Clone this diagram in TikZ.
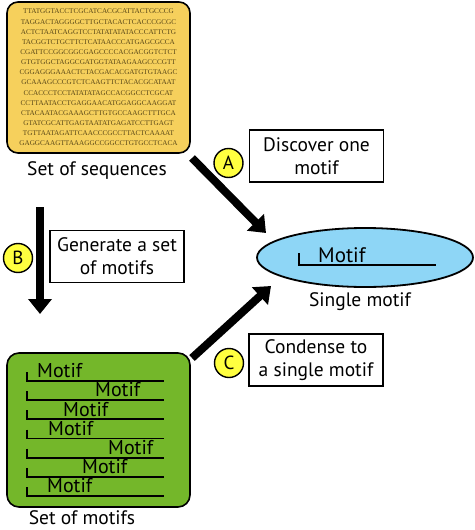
\documentclass[tikz,border=0pt]{standalone}
\usepackage{fontspec}
\setmainfont{PT Sans}
\newfontfamily\seqfont{Liberation Serif}
\usetikzlibrary{arrows.meta,shapes.geometric}
\definecolor{seqyellow}{HTML}{F6D05C}
\definecolor{seqtext}{HTML}{5A4818}
\definecolor{motifgreen}{HTML}{74B72A}
\definecolor{ellblue}{HTML}{8ED6F6}
\definecolor{circyellow}{HTML}{FFFF40}
\tikzset{
  x=1pt, y=-1pt,
  lbl/.style={font=\fontsize{19.5}{22}\selectfont, inner sep=0pt},
  stepbox/.style={draw=black, line width=1.6pt, fill=white, minimum width=134pt, minimum height=52pt, align=center, inner sep=0pt, font=\fontsize{19.5}{23}\selectfont},
  letter/.style={circle, draw=black, line width=1.4pt, fill=circyellow, minimum size=29pt, inner sep=0pt, font=\fontsize{19}{19}\selectfont},
  bigarrow/.style={line width=8pt, -{Triangle[length=15pt, width=23pt]}},
  motifline/.style={line width=1.8pt},
  motiftext/.style={font=\fontsize{20}{20}\selectfont, inner sep=0pt, anchor=base west},
}
\begin{document}
\begin{tikzpicture}
\useasboundingbox (0,0) rectangle (474,530);
% sequence box
\node[draw=black, line width=1.6pt, fill=seqyellow, rounded corners=11pt,
      minimum width=183pt, minimum height=151pt, inner sep=0pt, align=center,
      text=seqtext, font=\seqfont\fontsize{7.2}{10.15}\selectfont] (seq) at (98.5,77.5)
{TTATGGTACCTCGCATCACGCATTACTGCCCG\\
TAGGACTAGGGGCTTGCTACACTCACCCGCGC\\
ACTCTAATCAGGTCCTATATATATACCCATTCTG\\
TACGGTCTGCTTCTCATAACCCATGAGCGCCA\\
CGATTCCGGCGGCGAGCCCCACGACGGTCTCT\\
GTGTGGCTAGGCGATGGTATAAGAAGCCCGTT\\
CGGAGGGAAACTCTACGACACGATGTGTAAGC\\
GCAAAGCCCGTCTCAAGTTCTACACGCATAAT\\
CCACCCTCCTATATATAGCCACGGCCTCGCAT\\
CCTTAATACCTGAGGAACATGGAGGCAAGGAT\\
CTACAATACGAAAGCTTGTGCCAAGCTTTGCA\\
GTATCGCATTGAGTAATATGAGATCCTTGAGT\\
TGTTAATAGATTCAACCCGCCTTACTCAAAAT\\
GAGGCAAGTTAAAGGCCGGCCTGTGCCTCACA};
\node[lbl, anchor=base] (seqlbl) at (97,175) {Set of sequences};

% single motif ellipse
\node[ellipse, draw=black, line width=1.8pt, fill=ellblue, minimum width=216pt, minimum height=59pt, inner sep=0pt] (ell) at (365,257.5) {};
\coordinate (et1) at (299,253);
\coordinate (et2) at (299,265);
\coordinate (et3) at (436,265);
\draw[motifline] (et1) -- (et2) -- (et3);
\node[motiftext, font=\fontsize{21}{21}\selectfont] (emotif) at (318,262) {Motif};
\node[lbl, anchor=base] (elbl) at (360,306.5) {Single motif};

% motif set box
\node[draw=black, line width=1.6pt, fill=motifgreen, rounded corners=12pt,
      minimum width=183pt, minimum height=154pt, inner sep=0pt] (set) at (98.5,430) {};
\foreach \i/\tx in {0/37,1/95,2/63,3/48,4/108,5/82,6/47} {
  \coordinate (m\i a) at (27,381+19.17*\i-9);
  \coordinate (m\i b) at (27,381+19.17*\i);
  \coordinate (m\i c) at (164,381+19.17*\i);
  \draw[motifline] (m\i a) -- (m\i b) -- (m\i c);
  \node[motiftext] (mt\i) at (\tx,381+19.17*\i-3.2) {Motif};
}
\node[lbl, anchor=base] (setlbl) at (82,524) {Set of motifs};

% step boxes
\node[stepbox] (discover) at (316.5,156) {Discover one\\motif};
\node[stepbox] (generate) at (117,256.5) {Generate a set\\of motifs};
\node[stepbox] (condense) at (316,360) {Condense to\\a single motif};

% letters
\node[letter] (la) at (228.5,163) {A};
\node[letter] (lb) at (18,258) {B};
\node[letter] (lc) at (229,363) {C};

% arrows
\coordinate (a0) at (192,158);
\coordinate (a1) at (266,233);
\coordinate (b0) at (40,207);
\coordinate (b1) at (40,314);
\coordinate (c0) at (192,358);
\coordinate (c1) at (271,286);
\draw[bigarrow] (a0) -- (a1);
\draw[bigarrow] (b0) -- (b1);
\draw[bigarrow] (c0) -- (c1);
\end{tikzpicture}
\end{document}
